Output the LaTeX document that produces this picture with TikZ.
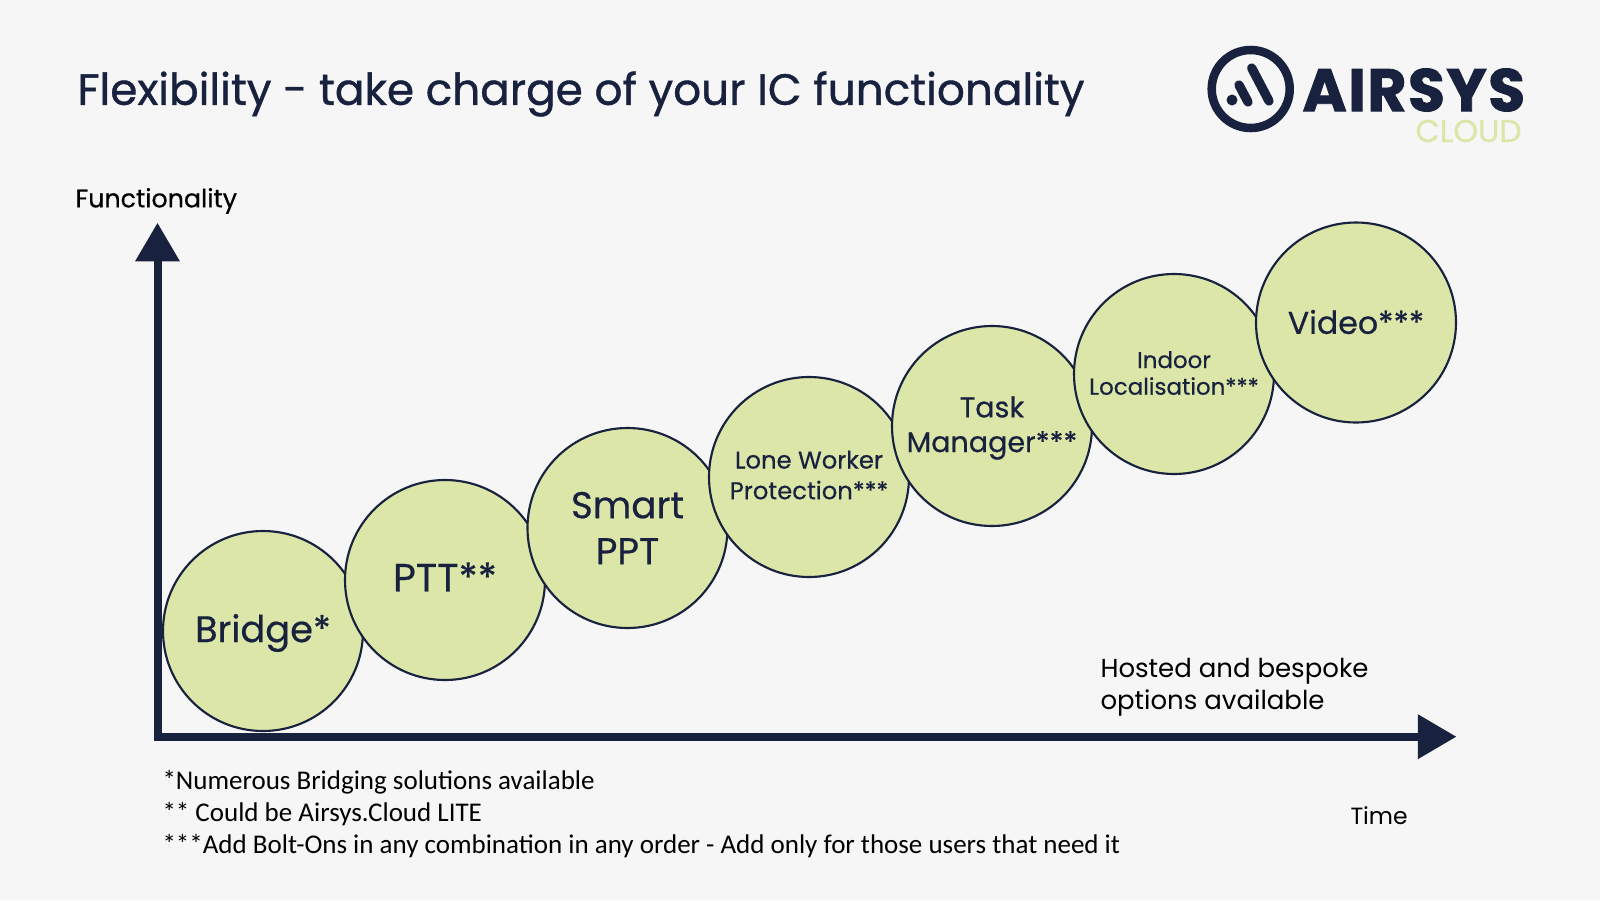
\documentclass[tikz,border=0pt]{standalone}
\usepackage{fontspec}
\usetikzlibrary{arrows.meta}
\setmainfont{Poppins}
\newfontfamily\medfont[FakeBold=0.5]{Poppins}
\newfontfamily\headfont[FakeBold=0.9]{Poppins}
\newfontfamily\logofont[BoldFeatures={FakeBold=1.5,LetterSpace=2.5}]{Poppins}
\newfontfamily\notefont{Carlito}
\definecolor{navy}{RGB}{24,34,63}
\definecolor{lime}{RGB}{220,230,168}
\definecolor{paper}{RGB}{246,246,246}
\newcommand{\sz}[2]{\fontsize{#1}{#2}\selectfont}
\tikzset{every picture/.style={line width=0.75pt},
  bubble/.style={circle,draw=navy,fill=lime,line width=1.6pt,minimum size=150pt,inner sep=0pt},
  bubbletext/.style={align=center,text=navy},
  axis/.style={draw=navy,line width=6pt,-{Triangle[width=32pt,length=29pt]}},
  label/.style={anchor=west,inner sep=0pt,align=left,text=black}}

\begin{document}
\begin{tikzpicture}[x=0.75pt,y=0.75pt,yscale=-1,xscale=1]
%background, sets the diagram size
\path [fill=paper] (0,0) rectangle (1600,900);

%Axes
\coordinate (origin) at (157.5,736.7);
\coordinate (topend) at (157.5,222.7);
\coordinate (rightend) at (1456.5,736.7);
\draw [axis] ([yshift=-3pt]origin) -- (topend);
\draw [axis] ([xshift=-3pt]origin) -- (rightend);

%Circles
\node [bubble] (bridge) at (263,631) {};
\node [bubble] (ptt) at (445,580) {};
\node [bubble] (smart) at (627.5,528) {};
\node [bubble] (lone) at (809,477) {};
\node [bubble] (task) at (992,426) {};
\node [bubble] (indoor) at (1174,374) {};
\node [bubble] (video) at (1356,322.5) {};

% Text Node
\node [bubbletext,font={\medfont\sz{27.6}{33}}] (bridgetext) at (263,633) {Bridge*};
\node [bubbletext,font={\medfont\sz{29.6}{35}}] (ptttext) at (445,577) {PTT**};
\node [bubbletext,font={\medfont\sz{28}{34.5}}] (smarttext) at (627.5,528) {Smart\\PPT};
\node [bubbletext,font={\medfont\sz{18.2}{23}}] (lonetext) at (809,475) {Lone Worker\\Protection***};
\node [bubbletext,font={\medfont\sz{21.4}{26}}] (tasktext) at (992,428) {Task\\Manager***};
\node [bubbletext,font={\medfont\sz{17.2}{20}}] (indoortext) at (1174,373) {Indoor\\Localisation***};
\node [bubbletext,font={\medfont\sz{23.7}{28}}] (videotext) at (1356,322) {Video***};

% Text Node
\node [label,text=navy,font={\headfont\sz{32.8}{40}}] (title) at (77,94) {Flexibility - take charge of your IC functionality};
% Text Node
\node [label,font={\medfont\sz{19}{23}}] (ylabel) at (75,201) {Functionality};
% Text Node
\node [label,font=\sz{19.5}{24}] (hosted) at (1100,687) {Hosted and bespoke\\options available};
% Text Node
\node [label,font=\sz{17.6}{22}] (xlabel) at (1350,816) {Time};
% Text Node
\node [label,font={\notefont\sz{20.25}{24}}] (note1) at (162,782) {*Numerous Bridging solutions available};
\node [label,font={\notefont\sz{20.25}{24}}] (note2) at (162,814) {** Could be Airsys.Cloud LITE};
\node [label,font={\notefont\sz{20.25}{24}}] (note3) at (162,846) {***Add Bolt-Ons in any combination in any order - Add only for those users that need it};

%Logo
\draw [navy,line width=6.4pt] (1250.7,89) circle (39);
\draw [navy,line width=7pt,line cap=round] (1251.7,68) -- (1269,101);
\draw [navy,line width=7pt,line cap=round] (1239,85) -- (1248,102);
\fill [navy] (1232,100) circle (5.5);
\node [label,text=navy,font={\logofont\bfseries\sz{45}{50}}] (airsys) at (1302,90) {AIRSYS};
\node [label,text=lime,font={\medfont\sz{23.6}{26}}] (cloud) at (1415,131) {CLOUD};
\end{tikzpicture}
\end{document}
